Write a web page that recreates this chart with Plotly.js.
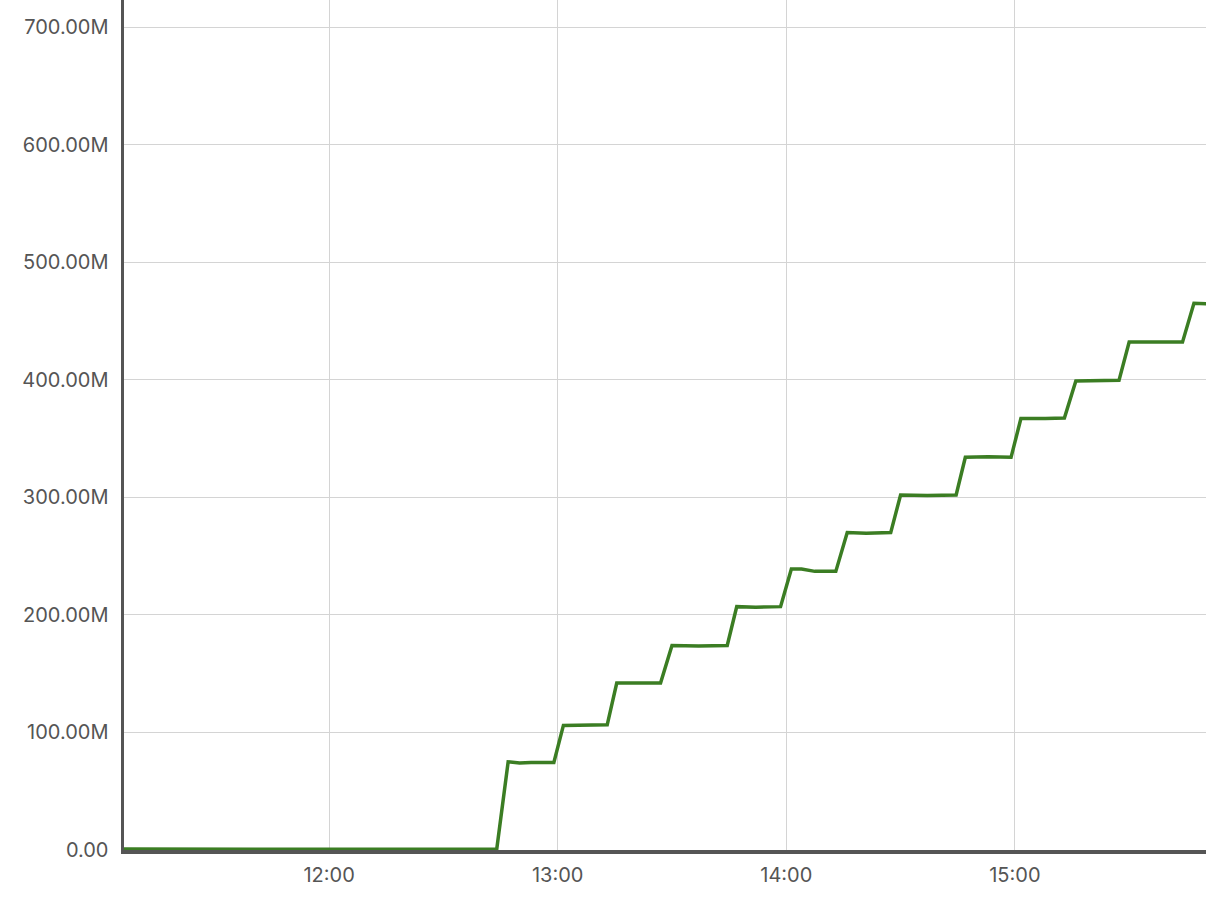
<!DOCTYPE html>
<html>
<head>
<meta charset="utf-8">
<script src="https://cdn.plot.ly/plotly-3.0.1.min.js"></script>
<style>html,body{margin:0;padding:0;background:#fff;}#chart{width:1206px;height:900px;}</style>
</head>
<body>
<div id="chart"></div>
<script>
const day = "2024-01-01 ";
const times = ["11:06:00","11:20:00","11:35:00","11:45:00","11:55:00","12:05:00","12:20:00","12:35:00","12:44:00",
  "12:47:00","12:50:00","12:53:00","12:59:00",
  "13:01:30","13:13:00",
  "13:15:30","13:27:00",
  "13:30:00","13:37:00","13:44:30",
  "13:47:00","13:52:00","13:58:30",
  "14:01:20","14:04:00","14:07:30","14:13:00",
  "14:16:00","14:21:00","14:27:25",
  "14:30:00","14:37:00","14:44:35",
  "14:47:00","14:53:00","14:59:00",
  "15:01:35","15:08:00","15:13:00",
  "15:16:00","15:22:00","15:27:20",
  "15:30:00","15:37:00","15:44:00",
  "15:47:00","15:50:30"];
const valuesM = [0.8,0.7,0.9,1.0,0.9,0.7,0.6,0.6,0.6,
  75,74,74.5,74.5,
  106,106.5,
  142,142,
  174,173.5,174,
  207,206.5,207,
  239,239,237,237,
  270,269.5,270,
  302,301.5,302,
  334,334.5,334,
  367,367,367.5,
  399,399.5,399.5,
  432,432,432,
  465,464.5];
const yTickVals = [0,100e6,200e6,300e6,400e6,500e6,600e6,700e6];
const yTickText = ["0.00","100.00M","200.00M","300.00M","400.00M","500.00M","600.00M","700.00M"];
const xTickVals = ["12:00:00","13:00:00","14:00:00","15:00:00"];
const xTickText = ["12:00","13:00","14:00","15:00"];

const trace = {
  x: times.map(t => day + t),
  y: valuesM.map(v => v * 1e6),
  type: "scatter",
  mode: "lines",
  line: {color: "#3b7d23", width: 3.5},
  hoverinfo: "x+y"
};
const font = {family: "Inter, 'Liberation Sans', sans-serif", size: 20, color: "#555"};
const layout = {
  width: 1206, height: 900,
  margin: {l: 124, r: 0, t: 0, b: 50},
  paper_bgcolor: "#fff", plot_bgcolor: "#fff",
  showlegend: false,
  font: font,
  xaxis: {
    type: "date",
    range: [day + "11:06:10", day + "15:50:10"],
    tickvals: xTickVals.map(t => day + t),
    ticktext: xTickText,
    showgrid: true, gridcolor: "#d4d4d4", gridwidth: 1,
    showline: true, linecolor: "#555", linewidth: 3.5,
    zeroline: false, ticks: "outside", ticklen: 4, tickcolor: "rgba(0,0,0,0)",
    layer: "below traces",
    tickfont: font
  },
  yaxis: {
    range: [0, 723e6],
    tickvals: yTickVals,
    ticktext: yTickText,
    showgrid: true, gridcolor: "#d4d4d4", gridwidth: 1,
    showline: true, linecolor: "#555", linewidth: 3.5,
    zeroline: false, ticks: "outside", ticklen: 8, tickcolor: "rgba(0,0,0,0)",
    layer: "below traces",
    tickfont: font
  }
};
Plotly.newPlot("chart", [trace], layout, {displayModeBar: false, staticPlot: true});
</script>
</body>
</html>
